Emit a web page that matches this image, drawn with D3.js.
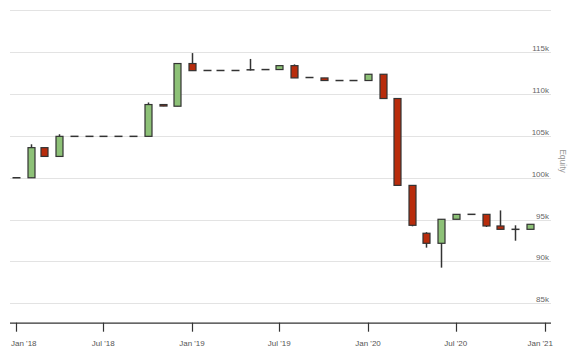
<!DOCTYPE html>
<html><head><meta charset="utf-8">
<script src="https://cdn.jsdelivr.net/npm/d3@7"></script>
<style>body{margin:0;background:#fff;}svg{display:block;font-family:Arial,"Liberation Sans",sans-serif;}</style>
</head><body><svg id="c" width="580" height="360"></svg>
<script>
const months = ["2018-01","2018-02","2018-03","2018-04","2018-05","2018-06","2018-07","2018-08","2018-09","2018-10","2018-11","2018-12",
"2019-01","2019-02","2019-03","2019-04","2019-05","2019-06","2019-07","2019-08","2019-09","2019-10","2019-11","2019-12",
"2020-01","2020-02","2020-03","2020-04","2020-05","2020-06","2020-07","2020-08","2020-09","2020-10","2020-11","2020-12"];
const open  = [100,100,103.6,102.55,104.95,104.95,104.95,104.95,104.95,104.95,108.75,108.55,
113.65,112.82,112.82,112.82,112.82,112.93,112.93,113.4,111.98,111.93,111.62,111.62,
111.62,112.37,109.47,99.09,93.37,92.17,95.04,95.63,95.63,94.24,93.84,93.84];
const high  = [100,104.0,103.6,105.2,104.95,104.95,104.95,104.95,104.95,109.0,108.75,113.65,
114.9,112.82,112.82,112.82,114.2,112.93,113.4,113.55,111.98,111.93,111.62,111.62,
112.37,112.37,109.47,99.09,93.5,95.04,95.63,95.63,95.63,96.1,94.32,94.44];
const low   = [100,100,102.55,102.55,104.95,104.95,104.95,104.95,104.95,104.95,108.55,108.55,
112.8,112.82,112.82,112.82,112.82,112.93,112.93,111.93,111.98,111.62,111.62,111.62,
111.62,109.47,99.09,94.2,91.65,89.26,95.04,95.63,94.12,93.84,92.48,93.84];
const close = [100,103.6,102.55,104.95,104.95,104.95,104.95,104.95,104.95,108.75,108.6,113.65,
112.8,112.82,112.82,112.82,112.9,112.93,113.4,111.93,111.98,111.62,111.62,111.62,
112.37,109.47,99.09,94.32,92.17,95.04,95.63,95.63,94.24,93.84,93.84,94.44];
const yTicks = [85,90,95,100,105,110,115,120];
const yTickLabels = ["85k","90k","95k","100k","105k","110k","115k",""];
const xTickDates = ["2018-01-01","2018-07-01","2019-01-01","2019-07-01","2020-01-01","2020-07-01","2021-01-01"];
const xTickLabels = ["Jan '18","Jul '18","Jan '19","Jul '19","Jan '20","Jul '20","Jan '21"];

const parse = d3.utcParse("%Y-%m-%d");
const data = months.map((m,i)=>({d:parse(m+"-01"),o:open[i],h:high[i],l:low[i],c:close[i]}));

const svg = d3.select("#c");
const x = d3.scaleUtc().domain([parse("2018-01-01"), parse("2021-01-01")]).range([16, 544.5]);
const y = d3.scaleLinear().domain([85,120]).range([303.3, 10.4]);
const left = 10, right = 551, axisY = 322.7;

// gridlines
svg.append("g").selectAll("line").data(yTicks).join("line")
  .attr("x1",left).attr("x2",right)
  .attr("y1",d=>Math.round(y(d))+0.5).attr("y2",d=>Math.round(y(d))+0.5)
  .attr("stroke","#e3e3e3").attr("stroke-width",1);
svg.append("g").selectAll("text").data(yTicks).join("text")
  .attr("x",549).attr("y",d=>Math.round(y(d))-1.5)
  .attr("text-anchor","end").attr("font-size",8).attr("fill","#666")
  .text((d,i)=>yTickLabels[i]);
svg.append("text").attr("transform","translate(559.5,161) rotate(90)")
  .attr("text-anchor","middle").attr("font-size",8.5).attr("fill","#999").text("Equity");

// x axis
const ax = svg.append("g").attr("transform",`translate(0,${axisY})`);
ax.append("line").attr("x1",left).attr("x2",right).attr("y1",0.5).attr("y2",0.5).attr("stroke","#333").attr("stroke-width",1.2);
const xt = xTickDates.map(parse);
ax.selectAll("line.t").data(xt).join("line").attr("class","t")
  .attr("x1",d=>Math.round(x(d))+0.5).attr("x2",d=>Math.round(x(d))+0.5)
  .attr("y1",0).attr("y2",9).attr("stroke","#333").attr("stroke-width",1.2);
ax.selectAll("text").data(xt).join("text")
  .attr("y",23.5).attr("text-anchor","middle")
  .attr("font-size",8).attr("fill","#555").text((d,i)=>xTickLabels[i])
  .attr("x",function(d){
    const w = this.getComputedTextLength();
    return Math.max(11 + w/2, Math.min(553 - w/2, x(d)));
  });

// candles
const g = svg.append("g");
const bw = 7, stroke = "#333";
data.forEach(d=>{
  const cx = Math.round(x(d.d)) + 0.5;
  const top = y(Math.max(d.o,d.c)), bot = y(Math.min(d.o,d.c));
  g.append("line").attr("x1",cx).attr("x2",cx).attr("y1",y(d.h)).attr("y2",y(d.l))
    .attr("stroke",stroke).attr("stroke-width",1.5);
  if (Math.abs(bot-top) < 1) {
    g.append("line").attr("x1",cx-4).attr("x2",cx+4).attr("y1",top).attr("y2",top)
      .attr("stroke",stroke).attr("stroke-width",1.5);
  } else {
    g.append("rect").attr("x",cx-bw/2).attr("width",bw)
      .attr("y",top).attr("height",Math.max(bot-top,1.5))
      .attr("fill", d.c>=d.o ? "#8dc177" : "#b82c0c")
      .attr("stroke",stroke).attr("stroke-width",1.2);
  }
});
</script></body></html>
